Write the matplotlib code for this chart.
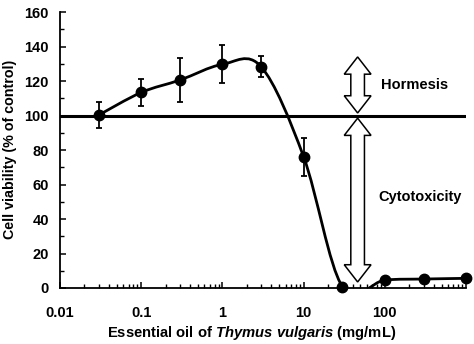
import numpy as np
import matplotlib.pyplot as plt
from matplotlib.path import Path
from matplotlib.patches import PathPatch, Polygon

plt.rcParams['font.family'] = ['Liberation Sans', 'DejaVu Sans']
plt.rcParams['font.weight'] = 'bold'
plt.rcParams['mathtext.fontset'] = 'custom'
plt.rcParams['mathtext.it'] = 'Liberation Sans:italic:bold'

# ===== DATA =====
conc = np.array([0.03, 0.1, 0.3, 1, 3, 10, 30, 100, 300, 1000])
viability = np.array([100.3, 113.4, 120.6, 129.7, 128.3, 76.1, 0.8, 4.6, 5.2, 5.6])
sd = np.array([7.5, 8.0, 12.7, 11.0, 6.0, 11.0, 0, 0, 0, 0])

xticks = [0.01, 0.1, 1, 10, 100, 1000]
xticklabels = ['0.01', '0.1', '1', '10', '100', '']
yticks = np.arange(0, 161, 20)

control_level = 100
hormesis_span = (101.5, 134)
cytotox_span = (3.5, 98.5)

# ===== FIGURE =====
fig = plt.figure(figsize=(4.74, 3.44), dpi=100)
ax = fig.add_axes([0.1266, 0.1628, 0.8566, 0.802])
ax.set_xscale('log')
ax.set_xlim(0.01, 1000)
ax.set_ylim(0, 160)

# smoothed connecting line (Catmull-Rom style Bezier in log-x space)
u = np.log10(conc)
pts = np.column_stack([u, viability])
padded = np.vstack([pts[0], pts, pts[-1]])
verts = [pts[0]]
codes = [Path.MOVETO]
for i in range(len(pts) - 1):
    p0, p1, p2, p3 = padded[i], padded[i + 1], padded[i + 2], padded[i + 3]
    c1 = p1 + (p2 - p0) / 6
    c2 = p2 - (p3 - p1) / 6
    verts += [c1, c2, p2]
    codes += [Path.CURVE4] * 3
verts = np.array(verts)
verts[:, 0] = 10 ** verts[:, 0]
ax.add_patch(PathPatch(Path(verts, codes), fc='none', ec='black', lw=2.0, zorder=3))

# points with error bars
has_err = sd > 0
ax.errorbar(conc[has_err], viability[has_err], yerr=sd[has_err], fmt='none',
            ecolor='black', elinewidth=1.3, capsize=2.4, capthick=1.3, zorder=4)
ax.plot(conc, viability, 'o', color='black', ms=7.5, zorder=5, clip_on=False)

# control line
ax.axhline(control_level, color='black', lw=2.2, zorder=2)


# hollow double-headed arrows
def double_arrow(xc, y0, y1, shaft=0.0168, head=0.033, head_len=10):
    tr = ax.get_yaxis_transform()
    outline = [
        (xc, y1), (xc + head, y1 - head_len), (xc + shaft, y1 - head_len),
        (xc + shaft, y0 + head_len), (xc + head, y0 + head_len), (xc, y0),
        (xc - head, y0 + head_len), (xc - shaft, y0 + head_len),
        (xc - shaft, y1 - head_len), (xc - head, y1 - head_len),
    ]
    ax.add_patch(Polygon(outline, closed=True, transform=tr, fc='white',
                         ec='black', lw=1.1, zorder=6, clip_on=False))


double_arrow(0.733, *hormesis_span)
double_arrow(0.733, *cytotox_span)
ax.text(0.79, 117.7, 'Hormesis', transform=ax.get_yaxis_transform(),
        fontsize=10.5, fontweight='bold', va='center', ha='left')
ax.text(0.783, 52.8, 'Cytotoxicity', transform=ax.get_yaxis_transform(),
        fontsize=10.5, fontweight='bold', va='center', ha='left')

# axes styling
ax.spines['top'].set_visible(False)
ax.spines['right'].set_visible(False)
ax.spines['left'].set_linewidth(1.3)
ax.spines['bottom'].set_linewidth(1.3)
ax.set_xticks(xticks)
ax.set_xticklabels(xticklabels)
ax.set_yticks(yticks)
ax.set_yticks(np.arange(10, 160, 20), minor=True)
ax.tick_params(which='major', direction='in', length=4, width=1.1, labelsize=10.5)
ax.tick_params(axis='x', which='major', pad=13)
ax.tick_params(axis='y', which='major', pad=8)
ax.tick_params(which='minor', direction='in', length=3, width=1.0)
for lab in ax.get_xticklabels() + ax.get_yticklabels():
    lab.set_fontweight('bold')

ax.set_xlabel(r'Essential oil of $\mathit{Thymus\ vulgaris}$ (mg/mL)',
              fontsize=10.6, fontweight='bold', va='center')
ax.set_ylabel('Cell viability (% of control)', fontsize=10.3,
              fontweight='bold', va='center')
ax.xaxis.set_label_coords(0.472, -0.163)
ax.yaxis.set_label_coords(-0.123, 0.504)

fig.savefig('out.png', dpi=100)
